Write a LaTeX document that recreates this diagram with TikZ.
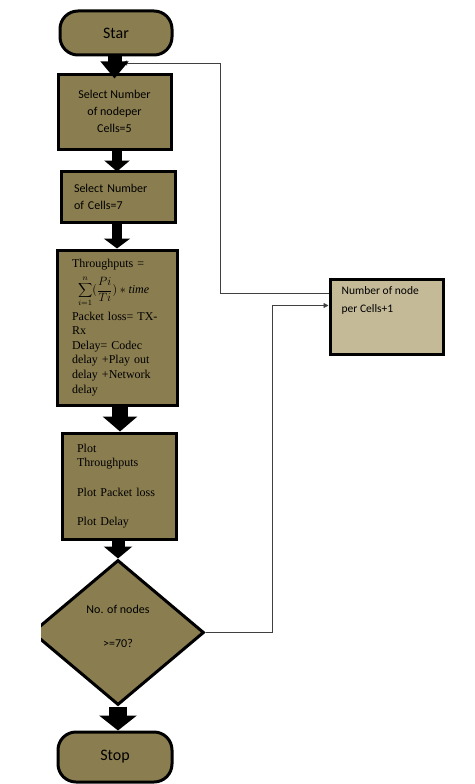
\documentclass[tikz,border=0pt]{standalone}
\usepackage{fontspec}
\setmainfont{Liberation Serif}
\newfontfamily\calib{Carlito}
\usetikzlibrary{arrows.meta,shapes.geometric,calc}
\definecolor{boxolive}{HTML}{8A7D50}
\definecolor{boxlight}{HTML}{C4BA97}
\begin{document}
\begin{tikzpicture}[x=1pt,y=-1pt,
  box/.style={draw=black,line width=3pt,fill=boxolive,inner sep=0pt},
  term/.style={box,rounded corners=18pt},
  sanstext/.style={font=\calib\fontsize{12}{17}\selectfont},
  seriftext/.style={font=\fontsize{12}{14.6}\selectfont},
  link/.style={draw=black!75,line width=0.8pt},
  linktip/.style={-{Triangle[width=5pt,length=5pt]}}]
\useasboundingbox[fill=white] (0,0) rectangle (474,784);

% nodes
\node[term,minimum width=112pt,minimum height=44pt,font=\calib\fontsize{16}{18}\selectfont] (star) at (116,33) {Star};
\node[box,minimum width=113pt,minimum height=75pt,sanstext,align=center] (b1) at (114.5,111.5) {Select Number\\of nodeper\\Cells=5};
\node[box,minimum width=114pt,minimum height=51pt,sanstext,text width=88pt,align=left] (b2) at (118,196.5) {Select Number\\of Cells=7};
\node[box,minimum width=120pt,minimum height=155pt,seriftext,text width=90pt,align=left] (b3) at (117,327.5)
  {Throughputs =\\[5pt]
   \hspace*{6pt}$\displaystyle\sum_{i=1}^{n}(\frac{Pi}{Ti})*\mathit{time}$\\[4pt]
   Packet loss= TX-\\Rx\\Delay= Codec\\delay +Play out\\delay +Network\\delay};
\node[box,minimum width=114pt,minimum height=106pt,seriftext,text width=84pt,align=left] (b4) at (119,486)
  {Plot\\Throughputs\\[14.6pt]Plot Packet loss\\[14.6pt]Plot Delay};
\node[box,diamond,minimum width=172pt,minimum height=145pt] (dia) at (118,632.5) {};
\fill[white] (0,600) rectangle (40.5,670);
\node[sanstext] (dt1) at (118,609) {No. of nodes};
\node[sanstext] (dt2) at (118,643) {>=70?};
\node[term,minimum width=114pt,minimum height=50pt,font=\calib\fontsize{16}{18}\selectfont] (stop) at (115,757) {Stop};
\node[box,fill=boxlight,minimum width=113pt,minimum height=75pt] (rb) at (386.5,316.5) {};
\node[sanstext,anchor=north west,align=left,inner sep=0pt,font=\calib\fontsize{11.5}{18}\selectfont] (rbt) at ([xshift=13pt,yshift=-9pt]rb.north west) {Number of node\\per Cells+1};

% thin feedback connectors
\coordinate (fb) at (122,63);
\draw[link,linktip] ([yshift=-16pt]rb.north west) -- ++(-108,0) |- (fb);
\draw[link,linktip] (dia.east) -- ++(67,0) |- ([yshift=-28pt]rb.north west);

% thick arrows
\draw[line width=14pt,-{Triangle[width=27pt,length=17pt]}] (star.south -| 114.5,0) -- ([yshift=-6pt]b1.north);
\draw[line width=10pt,-{Triangle[width=25pt,length=11pt]}] (b1.south -| 117,0) -- ([yshift=-2pt]b2.north -| 117,0);
\draw[line width=10pt,-{Triangle[width=26pt,length=10pt]}] (b2.south -| 117,0) -- (b3.north -| 117,0);
\draw[line width=16pt,-{Triangle[width=34pt,length=15pt]}] (b3.south -| 120,0) -- (b4.north -| 120,0);
\draw[line width=13pt,-{Triangle[width=28pt,length=12pt]}] (b4.south -| 118,0) -- (dia.north);
\draw[line width=18pt,-{Triangle[width=37pt,length=15pt]}] (dia.south) -- (stop.north -| 118,0);
\end{tikzpicture}
\end{document}
